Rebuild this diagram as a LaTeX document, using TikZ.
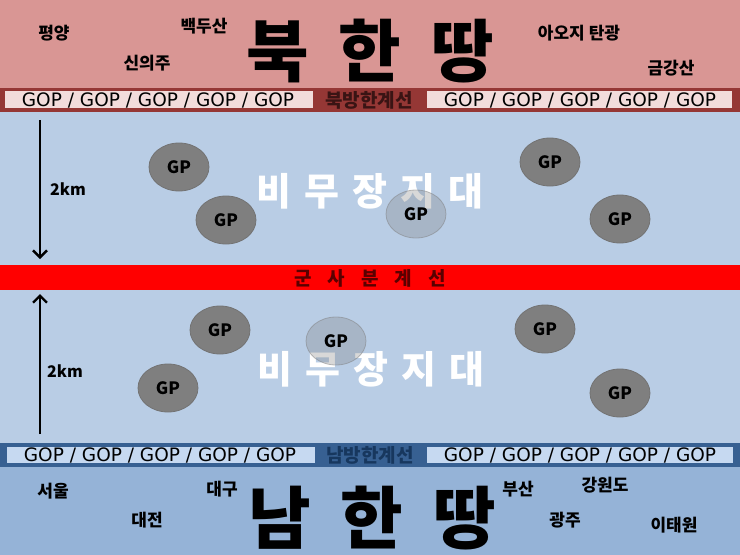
\documentclass[tikz,border=0pt]{standalone}
\usepackage{fontspec}
\setmainfont{Noto Sans CJK KR}
\newfontfamily\gopfont{DejaVu Sans}
\usetikzlibrary{arrows.meta,shapes.geometric}
\definecolor{northpink}{HTML}{D99694}
\definecolor{northdark}{HTML}{953735}
\definecolor{northbox}{HTML}{F2DCDB}
\definecolor{northtxt}{HTML}{3A1414}
\definecolor{dmzblue}{HTML}{B9CDE5}
\definecolor{southblue}{HTML}{95B3D7}
\definecolor{southdark}{HTML}{376092}
\definecolor{southbox}{HTML}{C6D9F1}
\definecolor{southtxt}{HTML}{17375E}
\definecolor{mdltxt}{HTML}{5A0000}
\definecolor{gpgray}{HTML}{7F7F7F}
\definecolor{gpedge}{HTML}{737373}
\tikzset{
  gpnode/.style={ellipse, fill=gpgray, draw=gpedge, line width=0.8pt,
    minimum width=60pt, minimum height=48pt, inner sep=0pt,
    font=\bfseries\fontsize{17}{17}\selectfont},
  gpghost/.style={gpnode, fill=gpgray, fill opacity=0.3, draw=gray, draw opacity=0.5, text opacity=1},
  place/.style={font=\bfseries\fontsize{17}{17}\selectfont, inner sep=0pt, text=black},
  bigland/.style={font=\bfseries\fontsize{68}{68}\selectfont, inner sep=0pt, text=black},
  dmztext/.style={font=\bfseries\fontsize{38}{38}\selectfont, inner sep=0pt, text=white},
  goptext/.style={font=\gopfont\fontsize{18.5}{18.5}\selectfont, inner sep=0pt, text=black},
  linetext/.style={font=\bfseries\fontsize{19}{19}\selectfont, inner sep=0pt},
  kmtext/.style={font=\bfseries\fontsize{16}{16}\selectfont, inner sep=0pt},
  distarrow/.style={line width=2.8pt, -{Straight Barb[length=7pt,width=14pt,line width=2.4pt]}},
}
\begin{document}
\begin{tikzpicture}[x=1pt,y=-1pt]
\useasboundingbox (0,0) rectangle (740,555);
% regions
\fill[northpink] (0,0) rectangle (740,88);
\fill[dmzblue] (0,112) rectangle (740,443);
\fill[red] (0,265) rectangle (740,290);
\fill[southblue] (0,467) rectangle (740,555);
% north GOP strip
\fill[northdark] (0,88) rectangle (740,112);
\fill[northbox] (5,91) rectangle (313,108);
\fill[northbox] (427,91) rectangle (732,108);
\node[goptext] (ngopl) at (158,100) {GOP / GOP / GOP / GOP / GOP};
\node[goptext] (ngopr) at (580,100) {GOP / GOP / GOP / GOP / GOP};
\node[linetext, text=northtxt] (nll) at (369,100) {북방한계선};
% south GOP strip
\fill[southdark] (0,443) rectangle (740,467);
\fill[southbox] (7,447) rectangle (315,463);
\fill[southbox] (427,447) rectangle (733,463);
\node[goptext] (sgopl) at (160,455) {GOP / GOP / GOP / GOP / GOP};
\node[goptext] (sgopr) at (580,455) {GOP / GOP / GOP / GOP / GOP};
\node[linetext, text=southtxt] (sll) at (370,455) {남방한계선};
% big titles
\node[bigland] (north) at (370,51) {북\hspace{30pt}한\hspace{30pt}땅};
\node[bigland] (south) at (372,518) {남\hspace{30pt}한\hspace{30pt}땅};
% north places
\node[place] (pyongyang) at (54,33) {평양};
\node[place] (baekdu) at (204,26) {백두산};
\node[place] (sinuiju) at (147,63) {신의주};
\node[place] (aoji) at (579,33) {아오지 탄광};
\node[place] (kumgang) at (671,68) {금강산};
% south places
\node[place] (seoul) at (53,491) {서울};
\node[place] (daejeon) at (147,520) {대전};
\node[place] (daegu) at (222,489) {대구};
\node[place] (busan) at (518,489) {부산};
\node[place] (gangwon) at (605,485) {강원도};
\node[place] (gwangju) at (565,520) {광주};
\node[place] (itaewon) at (674,525) {이태원};
% MDL text
\node[font=\bfseries\fontsize{19}{19}\selectfont, text=mdltxt, inner sep=0pt] (mdl) at (370,278)
  {군\hspace{16pt}사\hspace{16pt}분\hspace{16pt}계\hspace{16pt}선};
% DMZ texts
\node[dmztext] (dmzn) at (370,191) {비\hspace{13pt}무\hspace{13pt}장\hspace{13pt}지\hspace{13pt}대};
\node[dmztext] (dmzs) at (371,369) {비\hspace{13pt}무\hspace{13pt}장\hspace{13pt}지\hspace{13pt}대};
% GPs north
\node[gpnode] (gp1) at (179,167) {GP};
\node[gpnode] (gp2) at (226,220) {GP};
\node[gpghost] (gp3) at (416,214) {GP};
\node[gpnode] (gp4) at (550,162) {GP};
\node[gpnode] (gp5) at (620,219) {GP};
% GPs south
\node[gpnode] (gp6) at (220,330) {GP};
\node[gpghost] (gp7) at (336,341) {GP};
\node[gpnode] (gp8) at (545,329) {GP};
\node[gpnode] (gp9) at (168,388) {GP};
\node[gpnode] (gp10) at (620,393) {GP};
% distance arrows
\coordinate (na) at (40,120);
\coordinate (nb) at (40,259);
\coordinate (sa) at (40,434);
\coordinate (sb) at (40,294);
\draw[distarrow] (na) -- (nb);
\draw[distarrow] (sa) -- (sb);
\node[kmtext] (kmn) at (68,189) {2km};
\node[kmtext] (kms) at (65,371) {2km};
\end{tikzpicture}
\end{document}
